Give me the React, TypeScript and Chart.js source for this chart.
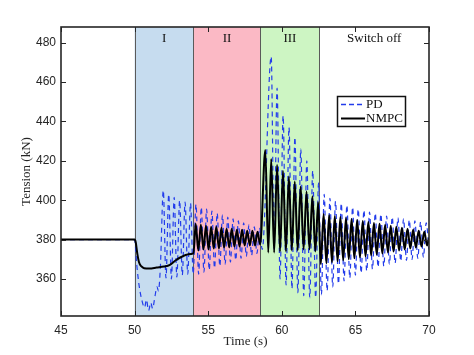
import React, { useEffect, useRef } from "react";
import { Chart, registerables } from "chart.js";

Chart.register(...registerables);

const xTicks = [45, 50, 55, 60, 65, 70];
const yTicks = [360, 380, 400, 420, 440, 460, 480];

const phaseNames = ["I", "II", "III", "Switch off"];
const phaseStart = [50, 54, 58.55, 62.55];
const phaseEnd = [54, 58.55, 62.55, 70];
const phaseColors = ["#c6dcef", "#fbb9c5", "#cdf5c3", "#ffffff"];

const nmpcTime = [
  45, 50, 50.08, 50.18, 50.3, 50.45, 50.65, 51.0, 51.5, 52.0, 52.4, 52.8, 53.2, 53.6, 54.0,
  54.15, 54.33, 54.5, 54.68, 54.85, 55.03, 55.2, 55.38, 55.55, 55.73, 55.9, 56.08, 56.25, 56.43,
  56.6, 56.78, 56.95, 57.13, 57.3, 57.48, 57.65, 57.83, 58.0, 58.18, 58.35, 58.53,
  58.88, 59.08, 59.28, 59.48, 59.68, 59.88, 60.08, 60.28, 60.48, 60.68, 60.88, 61.08, 61.28,
  61.48, 61.68, 61.88, 62.08, 62.28, 62.47,
  62.65, 62.84, 63.03, 63.22, 63.41, 63.6, 63.79, 63.98, 64.17, 64.36, 64.55, 64.74, 64.93,
  65.12, 65.31, 65.5, 65.69, 65.88, 66.07, 66.26, 66.45, 66.64, 66.83, 67.02, 67.21, 67.4,
  67.59, 67.78, 67.97, 68.16, 68.35, 68.54, 68.73, 68.92, 69.11, 69.3, 69.49, 69.68, 69.87, 70,
];
const nmpcTension = [
  380, 380, 378.5, 373, 368.5, 366.5, 365.5, 365.3, 365.8, 366.3, 367.2, 369.5, 371.3, 372.5, 373,
  388, 374.5, 387.5, 375, 387, 375, 386.5, 375.5, 386.5, 375.5, 386, 376, 385.5, 376,
  385.5, 376.5, 385, 376.5, 385, 377, 384.5, 377, 384.5, 377, 384, 377.5,
  425.5, 373.5, 421, 373.5, 418, 374, 415, 374, 412, 374.5, 409.5, 374.5, 407,
  375, 404.5, 375, 402, 374, 399,
  367.5, 393, 368, 392.5, 368.5, 392, 369, 391.5, 369.5, 391, 370, 390.5, 370.5,
  390, 371, 389.5, 371.5, 389, 372, 388.5, 372.5, 388, 373, 387.5, 373.5, 387,
  374, 386.5, 374.5, 386, 375, 385.5, 375.5, 385, 376, 384.5, 376.5, 384, 377, 381,
];

const pdTime = [
  45, 50, 50.15, 50.3, 50.5, 50.68, 50.8, 50.95, 51.1, 51.22, 51.38, 51.52, 51.62, 51.75,
  51.95, 52.13, 52.32, 52.5, 52.69, 52.87, 53.06, 53.24, 53.43, 53.61, 53.8, 53.98,
  54.17, 54.35, 54.53, 54.71, 54.89, 55.07, 55.25, 55.43, 55.61, 55.79, 55.97, 56.15, 56.33,
  56.51, 56.69, 56.87, 57.05, 57.23, 57.41, 57.59, 57.77, 57.95, 58.13, 58.31, 58.49, 58.67,
  59.28, 59.48, 59.68, 59.88, 60.09, 60.29, 60.49, 60.69, 60.89, 61.09, 61.29, 61.49, 61.7,
  61.9, 62.1, 62.3, 62.5,
  62.69, 62.88, 63.08, 63.27, 63.46, 63.65, 63.85, 64.04, 64.23, 64.42, 64.62, 64.81, 65.0,
  65.19, 65.39, 65.58, 65.77, 65.96, 66.16, 66.35, 66.54, 66.73, 66.93, 67.12, 67.31, 67.5,
  67.7, 67.89, 68.08, 68.27, 68.47, 68.66, 68.85, 69.04, 69.24, 69.43, 69.62, 69.81, 70,
];
const pdTension = [
  380, 380, 367, 357, 349, 345.5, 349.5, 344, 348, 345, 351, 356, 354, 366,
  405, 360.5, 403, 360, 401.5, 361, 400, 362, 399, 362.5, 398.5, 362.5,
  398, 362.5, 396.5, 363.5, 395.5, 364.5, 394.5, 365.5, 393.5, 366.5, 392.5, 367.5, 391.5,
  368.5, 390.5, 369.5, 389.5, 370.5, 388.5, 371.5, 387.5, 372, 386.5, 373, 386, 375,
  473, 375, 457, 360, 443, 357, 437, 355, 432, 353, 426, 351.5, 420,
  350.5, 415, 350.5, 409,
  352, 403, 354, 401, 356, 399.5, 357.5, 398.5, 359, 397.5, 360.5, 396.5, 362,
  395.5, 363, 395, 364, 394, 365, 393.5, 366, 393, 366.5, 392, 367.5, 391.5,
  368, 391, 369, 390.5, 369.5, 390, 370, 389.5, 370.5, 389, 371, 388.5, 375,
];

const PD_COLOR = "rgb(35,60,235)";
const AXIS_COLOR = "#262626";
const SANS = "'Liberation Sans', Arial, sans-serif";
const SERIF = "'Liberation Serif', 'Times New Roman', serif";

const decorPlugin = {
  id: "decor",
  beforeDatasetsDraw(chart: any) {
    const { ctx, chartArea, scales } = chart;
    const xs = scales.x;
    ctx.save();
    for (let i = 0; i < phaseNames.length; i++) {
      const x0 = xs.getPixelForValue(phaseStart[i]);
      const x1 = xs.getPixelForValue(phaseEnd[i]);
      ctx.fillStyle = phaseColors[i];
      ctx.fillRect(x0, chartArea.top, x1 - x0, chartArea.bottom - chartArea.top);
    }
    ctx.strokeStyle = "#5a5a5a";
    ctx.lineWidth = 1;
    for (let i = 0; i < phaseStart.length; i++) {
      const x = Math.round(xs.getPixelForValue(phaseStart[i])) + 0.5;
      ctx.beginPath();
      ctx.moveTo(x, chartArea.top);
      ctx.lineTo(x, chartArea.bottom);
      ctx.stroke();
    }
    ctx.fillStyle = "#111";
    ctx.font = `13px ${SERIF}`;
    ctx.textAlign = "center";
    ctx.textBaseline = "middle";
    for (let i = 0; i < phaseNames.length; i++) {
      const xc = (xs.getPixelForValue(phaseStart[i]) + xs.getPixelForValue(phaseEnd[i])) / 2;
      ctx.fillText(phaseNames[i], xc, chartArea.top + 12);
    }
    ctx.restore();
  },
  afterDraw(chart: any) {
    const { ctx, chartArea, scales } = chart;
    const { left, right, top, bottom } = chartArea;
    ctx.save();
    ctx.strokeStyle = AXIS_COLOR;
    ctx.lineWidth = 1;
    const tl = 5;
    ctx.beginPath();
    for (const v of yTicks) {
      const y = Math.round(scales.y.getPixelForValue(v)) + 0.5;
      ctx.moveTo(left, y);
      ctx.lineTo(left + tl, y);
      ctx.moveTo(right, y);
      ctx.lineTo(right - tl, y);
    }
    for (const v of xTicks) {
      const x = Math.round(scales.x.getPixelForValue(v)) + 0.5;
      ctx.moveTo(x, bottom);
      ctx.lineTo(x, bottom - tl);
      ctx.moveTo(x, top);
      ctx.lineTo(x, top + tl);
    }
    ctx.stroke();
    ctx.lineWidth = 1.6;
    ctx.strokeRect(left, top, right - left, bottom - top);

    // axis titles
    ctx.fillStyle = AXIS_COLOR;
    ctx.font = `13px ${SERIF}`;
    ctx.textAlign = "center";
    ctx.textBaseline = "middle";
    ctx.fillText("Time (s)", (left + right) / 2 + 0.5, 342);
    ctx.save();
    ctx.translate(27, (top + bottom) / 2);
    ctx.rotate(-Math.PI / 2);
    ctx.fillText("Tension (kN)", 0, 0);
    ctx.restore();

    // legend
    const bx = 337.5, by = 96.5, bw = 68, bh = 30;
    ctx.fillStyle = "#ffffff";
    ctx.fillRect(bx, by, bw, bh);
    ctx.lineWidth = 1.5;
    ctx.strokeStyle = "#111";
    ctx.strokeRect(bx, by, bw, bh);
    ctx.lineWidth = 1.3;
    ctx.strokeStyle = PD_COLOR;
    ctx.setLineDash([5, 3]);
    ctx.beginPath();
    ctx.moveTo(341, 104.5);
    ctx.lineTo(365, 104.5);
    ctx.stroke();
    ctx.setLineDash([]);
    ctx.strokeStyle = "#000";
    ctx.lineWidth = 2;
    ctx.beginPath();
    ctx.moveTo(341, 118.5);
    ctx.lineTo(365, 118.5);
    ctx.stroke();
    ctx.fillStyle = "#111";
    ctx.textAlign = "left";
    ctx.font = `13px ${SERIF}`;
    ctx.fillText("PD", 366, 104.5);
    ctx.fillText("NMPC", 366, 118.5);
    ctx.restore();
  },
};

export default function App() {
  const ref = useRef<HTMLCanvasElement | null>(null);
  useEffect(() => {
    if (!ref.current) return;
    const chart = new Chart(ref.current, {
      type: "line",
      data: {
        datasets: [
          {
            label: "PD",
            data: pdTime.map((t, i) => ({ x: t, y: pdTension[i] })),
            borderColor: PD_COLOR,
            borderWidth: 1.2,
            borderDash: [5, 4],
            pointRadius: 0,
            cubicInterpolationMode: "monotone",
            order: 1,
          },
          {
            label: "NMPC",
            data: nmpcTime.map((t, i) => ({ x: t, y: nmpcTension[i] })),
            borderColor: "#000000",
            borderWidth: 2,
            pointRadius: 0,
            cubicInterpolationMode: "monotone",
            order: 0,
          },
        ],
      },
      options: {
        responsive: false,
        animation: false,
        devicePixelRatio: 1,
        events: [],
        layout: { padding: { top: 27, right: 45, bottom: 0, left: 0 } },
        plugins: {
          legend: { display: false },
          title: { display: false },
          tooltip: { enabled: false },
        },
        scales: {
          x: {
            type: "linear",
            min: 45,
            max: 70,
            grid: { display: false, drawTicks: false },
            border: { display: false },
            afterBuildTicks: (s: any) => {
              s.ticks = xTicks.map((v) => ({ value: v }));
            },
            afterFit: (s: any) => {
              s.height = 39;
            },
            ticks: {
              autoSkip: false,
              maxRotation: 0,
              padding: 7,
              color: AXIS_COLOR,
              font: { family: SANS, size: 12 },
              callback: (v: any) => String(v),
            },
          },
          y: {
            type: "linear",
            min: 341.2,
            max: 488,
            grid: { display: false, drawTicks: false },
            border: { display: false },
            afterBuildTicks: (s: any) => {
              s.ticks = yTicks.map((v) => ({ value: v }));
            },
            afterFit: (s: any) => {
              s.width = 61;
            },
            ticks: {
              autoSkip: false,
              padding: 5,
              color: AXIS_COLOR,
              font: { family: SANS, size: 12 },
              callback: (v: any) => String(v),
            },
          },
        },
      },
      plugins: [decorPlugin],
    } as any);
    return () => chart.destroy();
  }, []);
  return (
    <div style={{ position: "fixed", left: 0, top: 0, width: 474, height: 355, background: "#fff" }}>
      <canvas ref={ref} width={474} height={355} style={{ display: "block" }} />
    </div>
  );
}
